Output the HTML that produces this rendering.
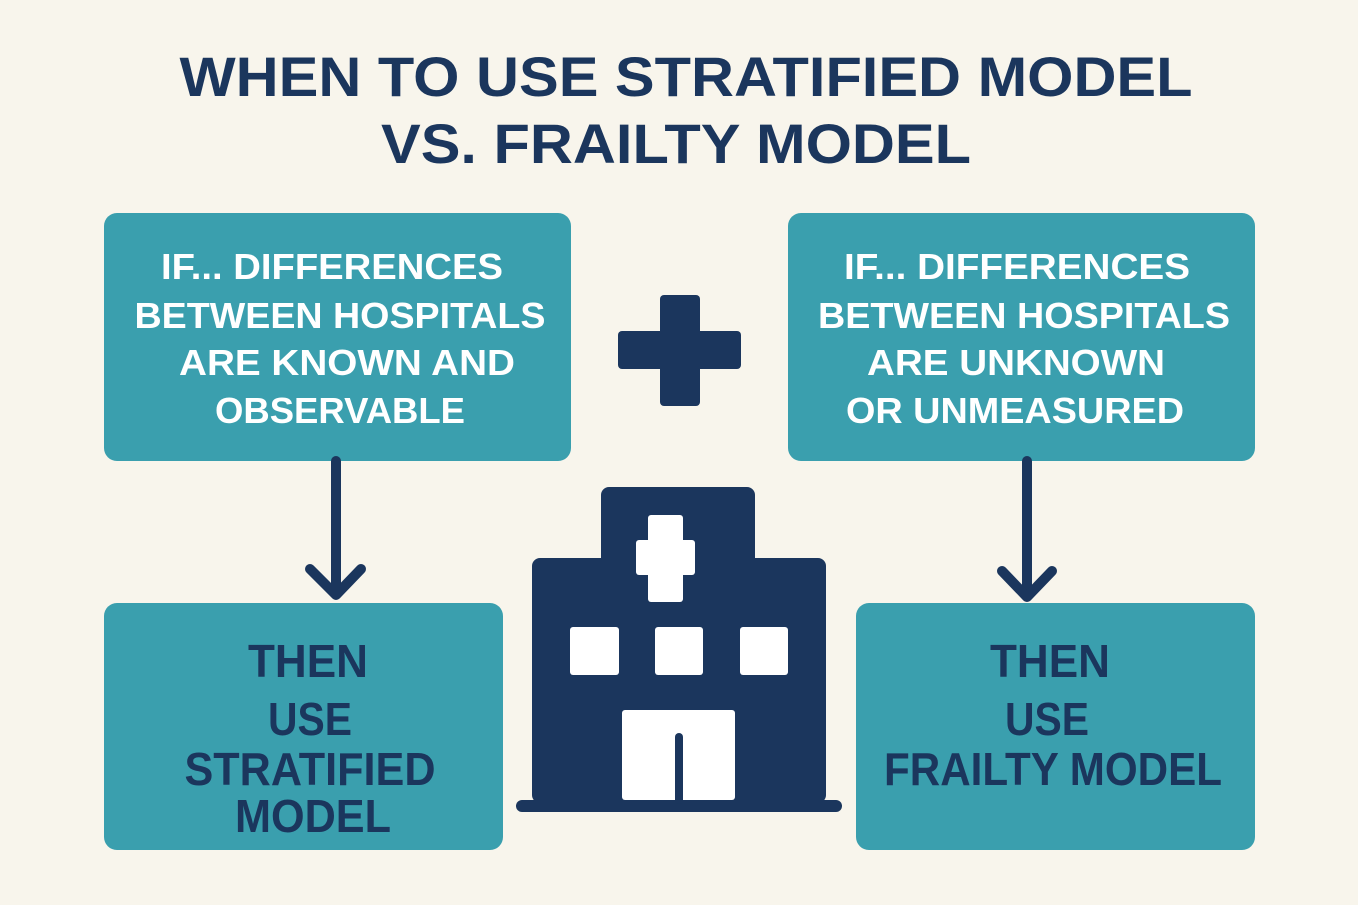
<!DOCTYPE html>
<html><head><meta charset="utf-8"><style>
html,body{margin:0;padding:0;background:#f8f5ec;}
svg{display:block}
text{font-family:"Liberation Sans","DejaVu Sans",sans-serif;font-weight:bold;}
</style></head><body>
<svg width="1358" height="905" viewBox="0 0 1358 905">
<rect width="1358" height="905" fill="#f8f5ec"/>
<g fill="#1b365d" text-anchor="middle">
<text x="686" y="96" font-size="56" textLength="1013" lengthAdjust="spacingAndGlyphs">WHEN TO USE STRATIFIED MODEL</text>
<text x="676" y="163" font-size="56" textLength="590" lengthAdjust="spacingAndGlyphs">VS. FRAILTY MODEL</text>
</g>
<rect x="104" y="213" width="467" height="248" rx="13" fill="#3a9fae"/>
<rect x="788" y="213" width="467" height="248" rx="13" fill="#3a9fae"/>
<rect x="104" y="603" width="399" height="247" rx="13" fill="#3a9fae"/>
<rect x="856" y="603" width="399" height="247" rx="13" fill="#3a9fae"/>
<g fill="#fff" font-size="36" text-anchor="middle">
<text x="332" y="279" textLength="342" lengthAdjust="spacingAndGlyphs">IF... DIFFERENCES</text>
<text x="340" y="328" textLength="411" lengthAdjust="spacingAndGlyphs">BETWEEN HOSPITALS</text>
<text x="347" y="375" textLength="336" lengthAdjust="spacingAndGlyphs">ARE KNOWN AND</text>
<text x="340" y="423" textLength="250" lengthAdjust="spacingAndGlyphs">OBSERVABLE</text>
<text x="1017" y="279" textLength="346" lengthAdjust="spacingAndGlyphs">IF... DIFFERENCES</text>
<text x="1024" y="328" textLength="412" lengthAdjust="spacingAndGlyphs">BETWEEN HOSPITALS</text>
<text x="1016" y="375" textLength="298" lengthAdjust="spacingAndGlyphs">ARE UNKNOWN</text>
<text x="1015" y="423" textLength="338" lengthAdjust="spacingAndGlyphs">OR UNMEASURED</text>
</g>
<g fill="#1b365d" font-size="46" text-anchor="middle">
<text x="308" y="677" textLength="120" lengthAdjust="spacingAndGlyphs">THEN</text>
<text x="310" y="735" textLength="84" lengthAdjust="spacingAndGlyphs">USE</text>
<text x="310" y="785" textLength="251" lengthAdjust="spacingAndGlyphs">STRATIFIED</text>
<text x="313" y="832" textLength="156" lengthAdjust="spacingAndGlyphs">MODEL</text>
<text x="1050" y="677" textLength="120" lengthAdjust="spacingAndGlyphs">THEN</text>
<text x="1047" y="735" textLength="84" lengthAdjust="spacingAndGlyphs">USE</text>
<text x="1053" y="785" textLength="338" lengthAdjust="spacingAndGlyphs">FRAILTY MODEL</text>
</g>
<g fill="#1b365d">
<rect x="660" y="295" width="40" height="111" rx="4"/>
<rect x="618" y="331" width="123" height="38" rx="4"/>
</g>
<g stroke="#1b365d" stroke-width="10" fill="none" stroke-linecap="round" stroke-linejoin="round">
<line x1="336" y1="461" x2="336" y2="592"/>
<polyline points="310,569 336,595 361,569"/>
<line x1="1027" y1="461" x2="1027" y2="594"/>
<polyline points="1002,571 1027,597 1052,571"/>
</g>
<g fill="#1b365d">
<rect x="601" y="487" width="154" height="90" rx="8"/>
<rect x="532" y="558" width="294" height="245" rx="8"/>
<rect x="516" y="800" width="326" height="12" rx="6"/>
</g>
<g fill="#fff">
<rect x="648" y="515" width="35" height="87" rx="3"/>
<rect x="636" y="540" width="59" height="35" rx="3"/>
<rect x="570" y="627" width="49" height="48" rx="3"/>
<rect x="655" y="627" width="48" height="48" rx="3"/>
<rect x="740" y="627" width="48" height="48" rx="3"/>
<rect x="622" y="710" width="113" height="90" rx="3"/>
</g>
<line x1="679" y1="737" x2="679" y2="800" stroke="#1b365d" stroke-width="8" stroke-linecap="round"/>
</svg>
</body></html>
